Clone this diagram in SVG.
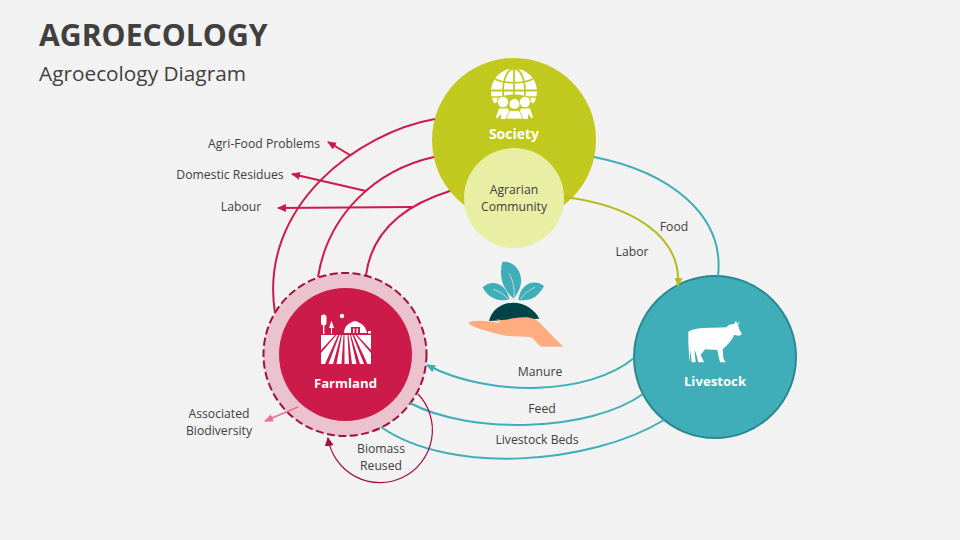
<svg xmlns="http://www.w3.org/2000/svg" width="960" height="540" viewBox="0 0 960 540">
<defs>
<marker id="mc" markerUnits="userSpaceOnUse" markerWidth="9" markerHeight="8" refX="8" refY="4" orient="auto"><path d="M0 0L9 4L0 8Z" fill="#cc1a4a"/></marker>
<marker id="mt" markerUnits="userSpaceOnUse" markerWidth="9" markerHeight="8" refX="8" refY="4" orient="auto"><path d="M0 0L9 4L0 8Z" fill="#40aeb8"/></marker>
<marker id="mo" markerUnits="userSpaceOnUse" markerWidth="9" markerHeight="8" refX="8" refY="4" orient="auto"><path d="M0 0L9 4L0 8Z" fill="#b5bc1e"/></marker>
<marker id="mp" markerUnits="userSpaceOnUse" markerWidth="9" markerHeight="8" refX="8" refY="4" orient="auto"><path d="M0 0L9 4L0 8Z" fill="#ee6f92"/></marker>
<marker id="md" markerUnits="userSpaceOnUse" markerWidth="9" markerHeight="9" refX="8" refY="4.5" orient="auto"><path d="M0 0L9 4.5L0 9Z" fill="#a01040"/></marker>
</defs>
<style>
text{font-family:"Open Sans","Liberation Sans",sans-serif;fill:#404040}
.l{font-size:12.2px;text-anchor:middle}
.n{font-size:13.2px;font-weight:700;fill:#fff;text-anchor:middle}
.c{fill:none;stroke:#cc1a4a;stroke-width:2}
.t{fill:none;stroke:#40aeb8;stroke-width:2}
.w{fill:#fff}
</style>
<rect width="960" height="540" fill="#f2f2f2"/>
<text x="39" y="46" font-size="30.200" font-weight="700">AGROECOLOGY</text>
<text x="39" y="81" font-size="20.800">Agroecology Diagram</text>

<g id="society">
<circle cx="514" cy="140" r="82" fill="#c2c91e"/>
<g id="society-icon">
<circle class="w" cx="514" cy="91.500" r="23"/>
<g fill="none" stroke="#c2c91e" stroke-width="1.800">
<ellipse cx="514" cy="91.500" rx="11" ry="23"/>
<path d="M514 68V115M491 90.500H537M495 79C505 84 523 84 533 79"/>
<path d="M491 97H537" stroke-width="1.500"/>
</g>
<path d="M488 115C492 100 503 98.500 514 98.500C525 98.500 536 100 540 115V122H488Z" fill="#c2c91e"/>
<path d="M497 99C503 93 525 93 531 99L531 101H497Z" fill="#c2c91e"/>
<circle class="w" cx="503" cy="102" r="5.200"/><circle class="w" cx="514.500" cy="104" r="5"/><circle class="w" cx="525" cy="102" r="5.200"/>
<path class="w" d="M499 108.500H508L510 113L507 119H501V114L497 118.500L496 117Z"/>
<path class="w" d="M530 108.500H521L519 113L522 119H528V114L532 118.500L533 117Z"/>
<path class="w" d="M510 110.500H519L521 114L523 119H506L508 114Z" stroke="#c2c91e" stroke-width=".8"/>
</g>
<text class="n" x="514" y="139" style="font-size:14px">Society</text>
</g>

<g id="agrarian">
<circle cx="514" cy="198" r="50" fill="#e9eea5"/>
<text class="l" x="514" y="194">Agrarian</text>
<text class="l" x="514" y="211">Community</text>
</g>

<g id="farmland">
<circle cx="345" cy="354.500" r="81.500" fill="#ebc3ce" stroke="#a01040" stroke-width="2" stroke-dasharray="8 3.500"/>
<circle cx="345.500" cy="354.500" r="66.500" fill="#cc1a4a"/>
<g id="farmland-icon">
<rect class="w" x="321" y="335" width="50" height="29"/>
<path fill="#cc1a4a" d="M335 335L321 350V353L336.500 335ZM338 335L325 364H328.500L339.500 335ZM341 335L333 364H336.500L342 335ZM343.500 335L341.500 364H344.500L344.500 335ZM347.500 335L349 364H352L348.500 335ZM350 335L356.500 364H360L351 335ZM352.500 335L364 364H367.500L354 335ZM355.500 335L371 353V350L357 335Z"/>
<rect class="w" x="321" y="314.500" width="5.500" height="11" rx="2.700"/><rect class="w" x="323" y="325" width="1.400" height="9"/>
<path class="w" d="M331.500 320.500L334 328H329ZM331 327H332V334H331Z"/>
<circle class="w" cx="342" cy="316" r="2.200"/>
<path class="w" d="M344 333C344 327 348 323 355 321C362 323 366 327 367 333Z"/>
<rect x="351" y="327" width="9" height="6" fill="#cc1a4a"/>
<rect class="w" x="353" y="328.500" width="1.500" height="4.500"/><rect class="w" x="356.500" y="328.500" width="1.500" height="4.500"/>
<rect class="w" x="368" y="331" width="3" height="2.500"/>
</g>
<text class="n" x="345.500" y="388">Farmland</text>
</g>

<g id="livestock">
<circle cx="715" cy="357" r="81" fill="#40aeb8" stroke="#2a8891" stroke-width="2"/>
<path class="w" transform="translate(660 300) scale(.3333)" d="M85 95C110 80 150 85 200 82L205 75L222 72L228 62L232 72L240 62L234 76L238 88L246 103L238 107L222 105C215 125 195 140 188 148L190 175L197 187L180 187L172 150L135 148L122 165L132 187L115 187L108 160L103 150L107 187L95 187L92 150L88 185L85 125Z"/>
<text class="n" x="715" y="386">Livestock</text>
</g>

<g id="hand">
<g transform="translate(450 250) scale(.3333)">
<path fill="#40aeb8" d="M157 36C195 30 220 70 212 105C207 125 198 135 192 147C160 120 145 80 157 36Z"/>
<path fill="#40aeb8" d="M98 112C125 85 170 100 178 148C140 158 112 140 98 112Z"/>
<path fill="#40aeb8" d="M282 108C255 85 210 100 205 150C245 156 268 135 282 108Z"/>
<path fill="none" stroke="#f2f2f2" stroke-width="2" d="M178 70C190 95 195 120 192 147M130 118C150 125 165 135 172 146M255 112C235 120 220 135 212 147"/>
<path fill="#00444a" d="M117 213C125 180 155 158 190 158C225 158 255 180 268 206Z"/>
<path fill="#ffac80" d="M55 220C60 212 80 210 135 216L150 220L140 208C170 215 195 198 240 203C265 207 275 225 295 245L340 290H272L245 262C215 258 180 262 155 255C120 245 70 235 55 220Z"/>
</g>
</g>

<g id="connectors">
<path class="c" d="M435 119C360 132 258 205 275 313"/>
<path class="c" d="M434 157C375 170 328 215 318 277"/>
<path class="c" d="M450 191C405 205 372 230 366 275"/>
<path class="c" marker-end="url(#mc)" d="M350 155L328 142"/>
<path class="c" marker-end="url(#mc)" d="M366 191L292 174"/>
<path class="c" marker-end="url(#mc)" d="M412 207L278 208"/>
<path class="t" d="M594 157C670 172 725 215 718 276"/>
<path fill="none" stroke="#b5bc1e" stroke-width="2" marker-end="url(#mo)" d="M564 197C630 205 682 235 678 286"/>
<path class="t" marker-end="url(#mt)" d="M634 358C590 395 490 398 427 365"/>
<path class="t" d="M643 394C590 432 470 435 410 403"/>
<path class="t" d="M664 420C590 465 450 475 381 427"/>
<path fill="none" stroke="#a01040" stroke-width="1.200" marker-end="url(#md)" d="M418 394A52.500 52.500 0 1 1 328 438"/>
<path fill="none" stroke="#ee6f92" stroke-width="1.500" marker-end="url(#mp)" d="M298 407L265 421"/>
</g>

<g id="labels">
<text class="l" x="264" y="148">Agri-Food Problems</text>
<text class="l" x="230" y="179">Domestic Residues</text>
<text class="l" x="241" y="211">Labour</text>
<text class="l" x="674" y="231">Food</text>
<text class="l" x="632" y="256">Labor</text>
<text class="l" x="540" y="376">Manure</text>
<text class="l" x="542" y="413">Feed</text>
<text class="l" x="537" y="444">Livestock Beds</text>
<text class="l" x="219" y="418">Associated</text>
<text class="l" x="219" y="435">Biodiversity</text>
<text class="l" x="381" y="453">Biomass</text>
<text class="l" x="381" y="470">Reused</text>
</g>
</svg>
